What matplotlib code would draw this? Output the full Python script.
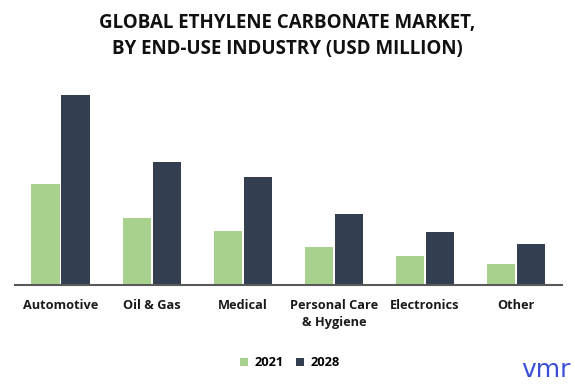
import matplotlib
matplotlib.use("Agg")
import matplotlib.pyplot as plt
import numpy as np

categories = ["Automotive", "Oil & Gas", "Medical", "Personal Care\n& Hygiene", "Electronics", "Other"]
years = ["2021", "2028"]
values_2021 = [101, 67, 54, 38, 29, 21]
values_2028 = [190, 123, 108, 71, 53, 41]
colors = ["#a9d18e", "#333f50"]

plt.rcParams['font.family'] = ['Open Sans', 'DejaVu Sans']

fig = plt.figure(figsize=(5.75, 3.85), dpi=100)
ax = fig.add_axes([15.5/575, 1-285/385, 546/575, 200/385])

x = np.arange(len(categories))
w = 0.31
off = 0.165
ax.bar(x - off, values_2021, width=w, color=colors[0], label=years[0], zorder=2)
ax.bar(x + off, values_2028, width=w, color=colors[1], label=years[1], zorder=2)

ax.set_xlim(-0.495, 5.5)
ax.set_ylim(0, 200)
for s in ["top", "right", "left"]:
    ax.spines[s].set_visible(False)
ax.spines["bottom"].set_color("#595959")
ax.spines["bottom"].set_linewidth(1.5)
ax.set_yticks([])
ax.set_xticks(x)
ax.set_xticklabels(categories, fontsize=9.2, fontweight="bold", color="#1a1a1a", linespacing=1.45)
ax.tick_params(axis="x", length=0, pad=10)

fig.text(0.5, 1-23/385, "GLOBAL ETHYLENE CARBONATE MARKET,", ha="center", va="center",
         fontsize=13.5, fontweight="bold", color="#111111")
fig.text(0.5, 1-49/385, "BY END-USE INDUSTRY (USD MILLION)", ha="center", va="center",
         fontsize=13.5, fontweight="bold", color="#111111")

leg = fig.legend(loc="center", bbox_to_anchor=(290/575, 1-363/385), ncol=2, frameon=False,
                 handlelength=0.6, handleheight=0.6, handletextpad=0.5,
                 columnspacing=1.0, prop={"weight": "bold", "size": 9.3})

fig.text(546/575, 1-370/385, "vmr", ha="center", va="center", fontsize=18,
         color="#3a4fd6", family=["DejaVu Sans"])

fig.savefig("out.png", dpi=100)
